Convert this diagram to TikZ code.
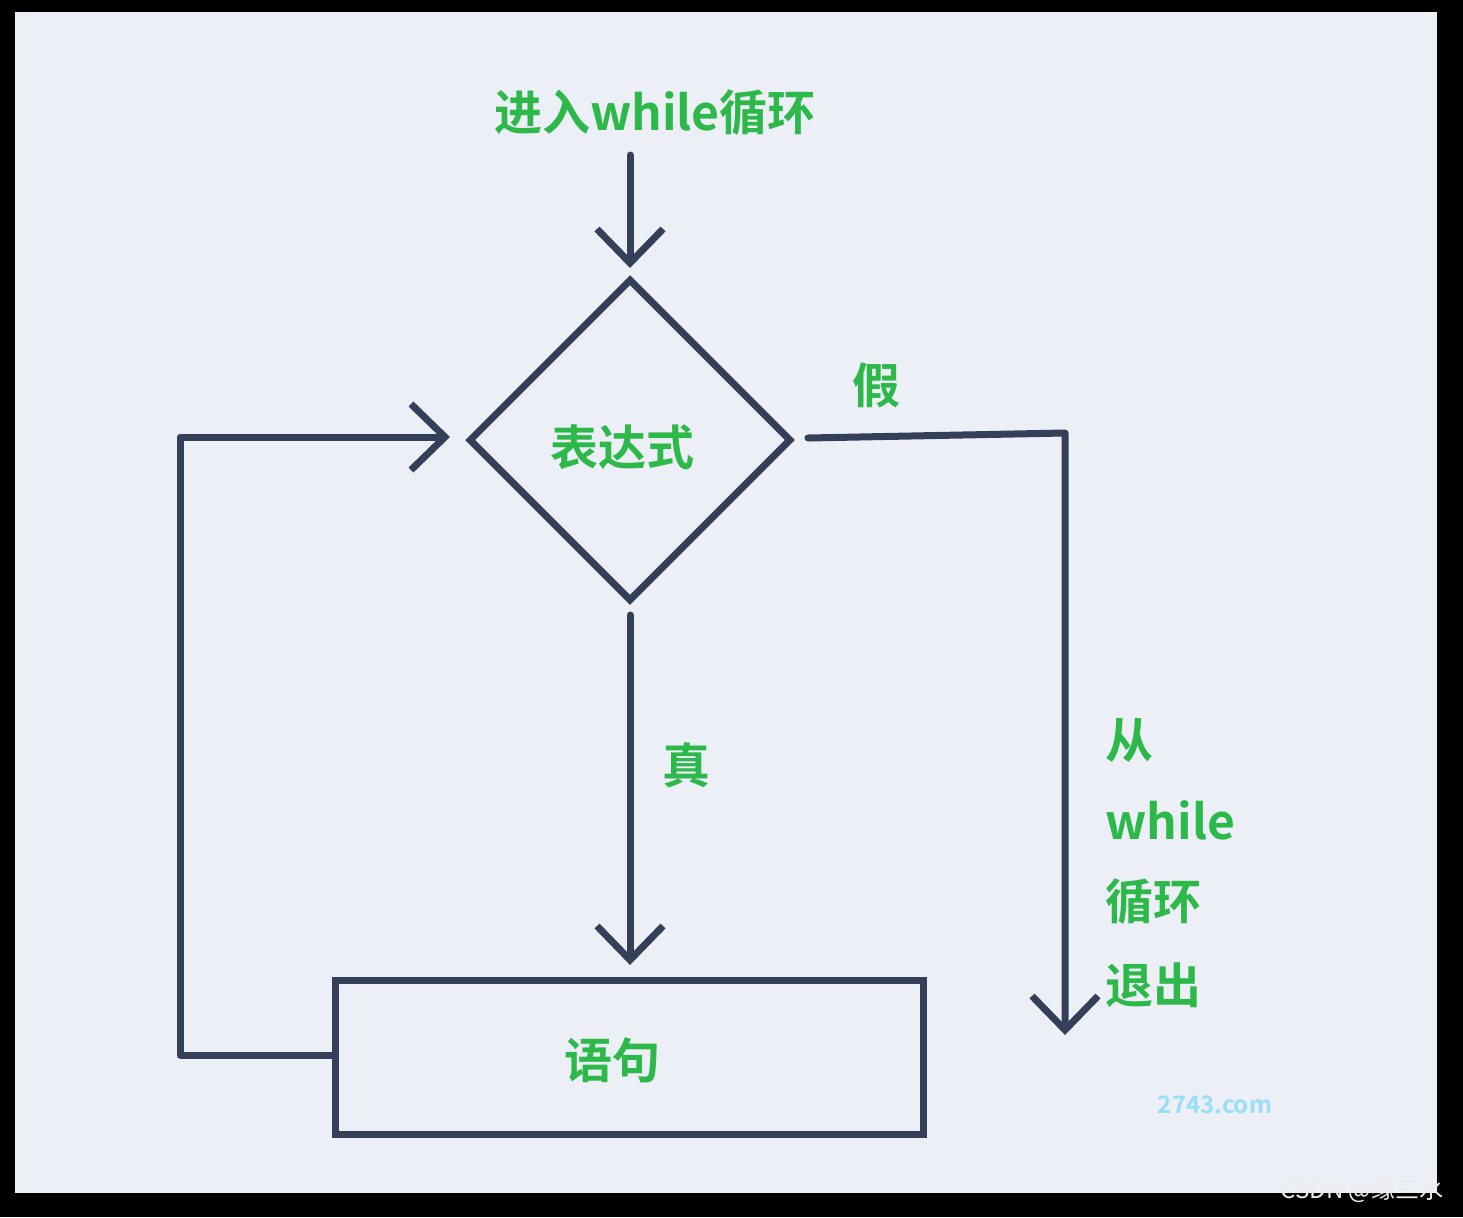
\documentclass[tikz,border=0pt]{standalone}
\usepackage{fontspec}
\setmainfont{Noto Sans CJK SC}[BoldFont={Noto Sans CJK SC Bold}]
\usetikzlibrary{arrows.meta}
\definecolor{ln}{HTML}{34405A}
\definecolor{gr}{HTML}{2DB84A}
\definecolor{bg}{HTML}{ECEFF6}
\tikzset{
 conn/.style={ln,line width=3.5pt,line cap=round,line join=round,-{Straight Barb[length=17pt,width=33pt,line width=3.5pt]}},
 plain/.style={ln,line width=3.5pt,line cap=round,line join=round},
 lbl/.style={gr,font=\bfseries\fontsize{24}{28}\selectfont,inner sep=0pt}
}
\begin{document}
\begin{tikzpicture}[x=0.5pt,y=-0.5pt]
\fill[black] (0,0) rectangle (1463,1217);
\fill[bg] (15,12) rectangle (1437,1193);
\node[lbl] (title) at (655,113) {进入while循环};
\coordinate (t0) at (630,155);
\node[draw=ln,line width=3.5pt,minimum width=160pt,minimum height=160pt,rotate=45,inner sep=0pt,shape=rectangle,minimum size=113pt] (d) at (630,440) {};
\node[lbl] at (622,447) {表达式};
\draw[conn] (t0) -- (630,268);
\node[draw=ln,line width=3.5pt,minimum width=294pt,minimum height=77pt,inner sep=0pt] (s) at (629,1057) {};
\node[lbl] at (612,1060) {语句};
\coordinate (tv) at (630,615);
\draw[conn] (tv) -- (630,965);
\node[lbl] at (686,765) {真};
\draw[conn] (s.west |- 0,1055) -- (180,1055) -- (180,437) -- (450,437);
\coordinate (f0) at (808,438);
\draw[conn] (f0) -- (1065,433) -- (1065,1035);
\node[lbl] at (876,385) {假};
\node[lbl,anchor=west] at (1105,740) {从};
\node[lbl,anchor=west] at (1105,820) {while};
\node[lbl,anchor=west] at (1105,902) {循环};
\node[lbl,anchor=west] at (1105,985) {退出};
\node[font=\bfseries\fontsize{12}{14}\selectfont,color=cyan!40!white] at (1215,1105) {2743.com};
\node[font=\fontsize{12}{14}\selectfont,color=white!85!gray] at (1362,1190) {CSDN @缘三水};
\end{tikzpicture}
\end{document}
